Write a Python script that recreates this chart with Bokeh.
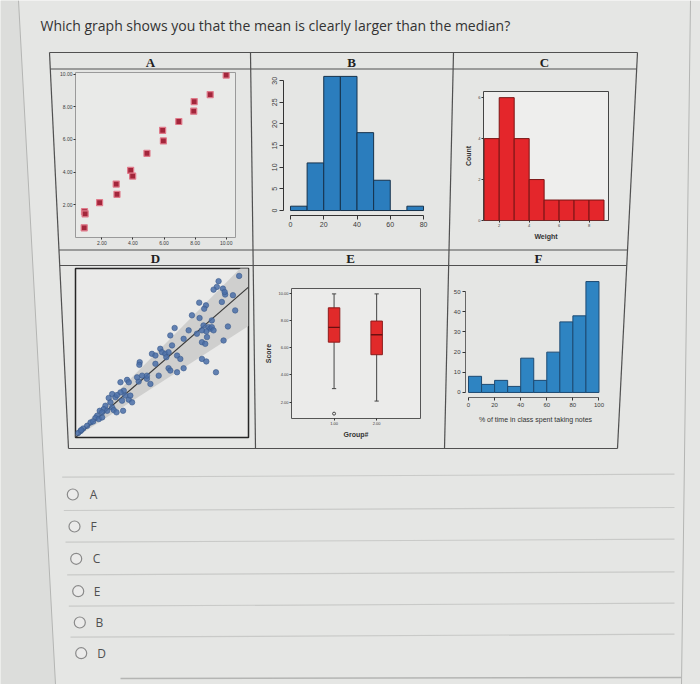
from bokeh.plotting import figure
from bokeh.models import Range1d, FixedTicker, NumeralTickFormatter
from bokeh.core.properties import value
from bokeh.embed import file_html
from bokeh.resources import INLINE

# ---- data ----
question = "Which graph shows you that the mean is clearly larger than the median?"
panel_names = ["A", "B", "C", "D", "E", "F"]
options = ["A", "F", "C", "E", "B", "D"]

# A: scatter
a_x = [0.88, 0.92, 0.86, 1.85, 2.92, 2.97, 3.85, 3.98, 4.90, 5.91, 5.96, 6.95, 7.94, 7.91, 8.97, 10.0]
a_y = [1.58, 1.45, 0.59, 2.13, 3.27, 2.64, 4.11, 3.76, 5.15, 6.56, 5.91, 7.10, 8.32, 7.73, 8.75, 9.94]
a_ticks = [2, 4, 6, 8, 10]

# B: histogram, bins of 10
b_edges = [0, 10, 20, 30, 40, 50, 60, 70, 80]
b_counts = [1, 11, 31, 31, 18, 7, 0, 1]
b_xticks = [0, 20, 40, 60, 80]
b_yticks = [0, 5, 10, 15, 20, 25, 30]

# C: histogram of Weight
c_edges = [1, 2, 3, 4, 5, 6, 7, 8, 9]
c_counts = [4, 6, 4, 2, 1, 1, 1, 1]
c_xticks = [2, 4, 6, 8]
c_yticks = [0, 2, 4, 6]

# D: scatter with fit line and band
d_x = [94.6, 82.7, 81.7, 79.8, 85.2, 86.5, 86.2, 91.0, 84.6, 92.3,
       71.5, 75.4, 74.4, 67.3, 71.7, 78.8, 74.0, 76.9, 77.9, 78.8,
       79.8, 75.6, 73.1, 88.1, 70.2, 65.4, 76.0, 73.1, 75.0, 85.6,
       57.3, 54.8, 62.5, 55.8, 49.0, 50.0, 51.9, 53.8, 44.2, 58.7,
       60.6, 46.2, 37.1, 36.9, 73.1, 75.6, 81.2, 53.8, 54.8, 58.7,
       62.5, 48.1, 38.5, 41.3, 29.8, 30.8, 36.5, 43.3, 27.9, 26.0,
       28.8, 21.2, 23.1, 24.0, 30.8, 32.7, 19.2, 20.2, 26.9, 31.7,
       17.3, 16.3, 18.3, 21.2, 22.1, 23.7, 27.5, 14.0, 12.5, 11.5,
       13.5, 15.4, 8.7, 10.2, 6.7, 4.4, 2.9, 1.5, 3.3, 15.4,
       26.0, 35.6, 41.3, 46.2, 52.5]
d_y = [95.6, 92.5, 89.1, 87.5, 88.1, 84.6, 86.1, 84.2, 80.2, 75.2,
       79.8, 78.2, 76.2, 72.3, 70.7, 69.3, 66.3, 65.3, 64.4, 65.3,
       63.4, 62.8, 63.4, 65.7, 61.4, 63.4, 59.4, 56.4, 55.4, 57.4,
       64.8, 60.4, 58.4, 54.5, 52.5, 50.5, 49.5, 50.5, 49.5, 48.5,
       46.5, 43.6, 44.6, 43.0, 46.5, 45.0, 38.6, 41.0, 39.6, 38.6,
       41.0, 36.6, 36.6, 34.7, 34.1, 32.7, 33.1, 31.7, 27.7, 26.7,
       24.8, 25.7, 23.8, 25.1, 22.4, 20.8, 23.4, 20.8, 21.8, 24.8,
       18.8, 16.8, 15.8, 17.8, 16.2, 14.9, 15.8, 15.8, 12.9, 11.5,
       10.9, 11.9, 8.9, 9.5, 6.9, 5.3, 3.8, 2.6, 4.4, 14.9,
       32.7, 35.6, 36.6, 48.5, 47.5]
fit_x = [0, 100]
fit_y = [0, 89]
band_x = [0, 100]
band_lo = [0, 66]
band_hi = [2, 105]

# E: box plots of Score by Group#
e_groups = [1, 2]
e_low = [2.99, 2.07]
e_q1 = [6.43, 5.50]
e_med = [7.52, 6.98]
e_q3 = [8.97, 7.99]
e_high = [10.0, 10.0]
e_out_x = [1]
e_out_y = [1.14]
e_xticks = [1, 2]
e_yticks = [2, 4, 6, 8, 10]

# F: histogram of % of time taking notes
f_edges = [0, 10, 20, 30, 40, 50, 60, 70, 80, 90, 100]
f_counts = [8, 4, 6, 3, 17, 6, 20, 35, 38, 55]
f_xticks = [0, 20, 40, 60, 80, 100]
f_yticks = [0, 10, 20, 30, 40, 50]

# ---- look ----
BG = "#e5e6e4"
RULE = "#505050"
W, H = 700, 684


def place(p, left, top):
    p.styles = {"position": "absolute", "left": "%dpx" % left, "top": "%dpx" % top}


def cell(left, top, w, h, xr, yr, bl, br, bt, bb, **kw):
    p = figure(width=w, height=h, x_range=xr, y_range=yr, toolbar_location=None,
               output_backend="svg", min_border_left=bl, min_border_right=br,
               min_border_top=bt, min_border_bottom=bb, **kw)
    p.border_fill_color = None
    p.background_fill_color = None
    p.outline_line_color = None
    p.xgrid.visible = False
    p.ygrid.visible = False
    place(p, left, top)
    return p


def style_axes(p, size, tick_out=2, line=None):
    for ax in p.axis:
        ax.major_label_text_font = "Liberation Sans"
        ax.major_label_text_font_size = size
        ax.major_label_text_color = "#3a3a3a"
        ax.major_label_standoff = 1
        ax.major_tick_in = 0
        ax.major_tick_out = tick_out
        ax.major_tick_line_color = "#333333"
        ax.minor_tick_line_color = None
        ax.axis_line_color = line
        ax.axis_label_text_font = "Liberation Sans"
        ax.axis_label_text_font_style = "bold"
        ax.axis_label_text_font_size = "7px"
        ax.axis_label_text_color = "#333333"
        ax.axis_label_standoff = 3


# ---- page: question, table rules, headers, answer options ----
page = figure(width=W, height=H, x_range=Range1d(0, W), y_range=Range1d(H, 0),
              toolbar_location=None, output_backend="svg", min_border=0,
              x_axis_location=None, y_axis_location=None)
page.border_fill_color = BG
page.background_fill_color = BG
page.outline_line_color = None
page.grid.visible = False
place(page, 0, 0)

# card edges (photo is slightly skewed)
page.patch([0, 18, 55, 0], [0, 0, H, H], fill_color="#dcdddb", line_color=None)
page.segment(x0=[18, 690], y0=[0, 0], x1=[55, 681], y1=[H, H], line_color="#b4b5b3", line_width=1)
page.segment(x0=[120], y0=[678], x1=[681], y1=[677], line_color="#b4b5b3", line_width=1.5)

page.text(x=[40], y=[25], text=[question], text_font=value("Open Sans"), text_font_size="14px",
          text_color="#333333", text_baseline="middle")

# table: corners of the skewed grid
tl, tr, bl_, br_ = (49, 52), (637, 52), (68, 448), (617, 448)
col_top = [49, 250, 453, 637]
col_bot = [68, 255, 444, 617]
page.segment(x0=col_top, y0=[52] * 4, x1=col_bot, y1=[448] * 4, line_color=RULE, line_width=1.2)
rule_y = [52, 68.5, 249.5, 265, 448]
lx = [tl[0] + (y - 52) * (bl_[0] - tl[0]) / 396 for y in rule_y]
rx = [tr[0] + (y - 52) * (br_[0] - tr[0]) / 396 for y in rule_y]
page.segment(x0=lx, y0=rule_y, x1=rx, y1=rule_y, line_color=RULE, line_width=1.2)
head_x = [150, 351, 544, 155, 350, 538]
head_y = [61.5, 61.5, 62, 258, 258, 257.5]
page.text(x=head_x, y=head_y, text=panel_names, text_font=value("Liberation Serif"),
          text_font_size="13px", text_font_style="bold", text_color="#1e1e1e",
          text_align="center", text_baseline="middle")

# answer options
opt_y = [494, 526, 558.3, 590.7, 622, 652.7]
opt_cx = [72.3, 74, 75.7, 77.7, 79.3, 80.7]
opt_tx = [89.3, 90, 92.3, 93.3, 95, 96.7]
sep_y = [476.7, 510, 541.7, 574.3, 605.7, 636.7]
sep_x0 = [61.7, 63.3, 65, 66.7, 68.3, 70]
page.segment(x0=sep_x0, y0=sep_y, x1=[674] * 6, y1=[y - 3 for y in sep_y],
             line_color="#c9cac8", line_width=1.2)
page.scatter(x=opt_cx, y=opt_y, marker="circle", size=11, fill_color="#ebebea",
             line_color="#8a8a8a", line_width=1.2)
page.text(x=opt_tx, y=opt_y, text=options, text_font=value("Open Sans"), text_font_size="12px",
          text_color="#505050", text_baseline="middle")

# ---- A ----
pa = cell(45, 70, 200, 180, Range1d(0.3, 10.6), Range1d(0.0, 10.1), 30, 10, 2, 13)
pa.background_fill_color = "#e9eae8"
pa.outline_line_color = "#9a9a9a"
pa.scatter(a_x, a_y, marker="square", size=6, fill_color="#a3263b", line_color="#e07a8a", line_width=1.2)
style_axes(pa, "5px")
pa.xaxis.ticker = FixedTicker(ticks=a_ticks)
pa.yaxis.ticker = FixedTicker(ticks=a_ticks)
pa.xaxis.formatter = NumeralTickFormatter(format="0.00")
pa.yaxis.formatter = NumeralTickFormatter(format="0.00")

# ---- B ----
pb = cell(250, 70, 195, 175, Range1d(-4.2, 85.4), Range1d(-1.15, 31.9), 33, 13, 2, 30)
pb.quad(left=b_edges[:-1], right=b_edges[1:], bottom=0, top=b_counts,
        fill_color="#2b7dbd", line_color="#16324c", line_width=1)
style_axes(pb, "7px", tick_out=4, line="#333333")
pb.xaxis.ticker = FixedTicker(ticks=b_xticks)
pb.yaxis.ticker = FixedTicker(ticks=b_yticks)
pb.xaxis.bounds = (0, 80)
pb.yaxis.bounds = (0, 30)
pb.yaxis.major_label_orientation = "vertical"
pb.axis.major_label_standoff = 2

# ---- C ----
pc = cell(452, 70, 180, 178, Range1d(0.95, 9.3), Range1d(0, 6.3), 31, 24, 21, 28)
pc.background_fill_color = "#eeeeed"
pc.outline_line_color = "#444444"
pc.quad(left=c_edges[:-1], right=c_edges[1:], bottom=0, top=c_counts,
        fill_color="#e4262b", line_color="#7a1515", line_width=1)
style_axes(pc, "4px")
pc.xaxis.ticker = FixedTicker(ticks=c_xticks)
pc.yaxis.ticker = FixedTicker(ticks=c_yticks)
pc.xaxis.axis_label = "Weight"
pc.yaxis.axis_label = "Count"

# ---- D ----
pd_ = cell(60, 266, 195, 178, Range1d(0, 100), Range1d(0, 100), 15, 7, 2, 7,
           x_axis_location=None, y_axis_location=None)
pd_.background_fill_color = "#eaeae9"
pd_.outline_line_color = "#262626"
pd_.outline_line_width = 1.5
pd_.varea(x=band_x, y1=band_lo, y2=band_hi, fill_color="#cfcfce", fill_alpha=1)
pd_.line(fit_x, fit_y, line_color="#3a3a3a", line_width=1.2)
pd_.scatter(d_x, d_y, marker="circle", size=5.5, fill_color="#4a6ea8", fill_alpha=0.85,
            line_color="#3a5a8c", line_width=0.6)

# ---- E ----
pe = cell(255, 266, 190, 180, Range1d(0, 3.03), Range1d(0.78, 10.4), 36, 25, 22, 28)
pe.background_fill_color = "#ebebea"
pe.outline_line_color = "#555555"
cap_l = [g - 0.05 for g in e_groups]
cap_r = [g + 0.05 for g in e_groups]
pe.segment(x0=e_groups, x1=e_groups, y0=e_low, y1=e_high, line_color="#444444", line_width=1)
pe.segment(x0=cap_l, x1=cap_r, y0=e_high, y1=e_high, line_color="#444444")
pe.segment(x0=cap_l, x1=cap_r, y0=e_low, y1=e_low, line_color="#444444")
pe.vbar(x=e_groups, width=0.27, bottom=e_q1, top=e_q3, fill_color="#e12a2a",
        line_color="#8c1c1c", line_width=1)
pe.segment(x0=[g - 0.135 for g in e_groups], x1=[g + 0.135 for g in e_groups],
           y0=e_med, y1=e_med, line_color="#6a1010", line_width=1.4)
pe.scatter(e_out_x, e_out_y, marker="circle", size=3, fill_color=None, line_color="#444444")
style_axes(pe, "4px")
pe.xaxis.ticker = FixedTicker(ticks=e_xticks)
pe.yaxis.ticker = FixedTicker(ticks=e_yticks)
pe.xaxis.formatter = NumeralTickFormatter(format="0.00")
pe.yaxis.formatter = NumeralTickFormatter(format="0.00")
pe.xaxis.axis_label = "Group#"
pe.yaxis.axis_label = "Score"

# ---- F ----
pf = cell(450, 266, 175, 178, Range1d(-2.3, 105), Range1d(-2.5, 58), 13, 20, 9, 47)
pf.quad(left=f_edges[:-1], right=f_edges[1:], bottom=0, top=f_counts,
        fill_color="#2e84c2", line_color="#1d4a72", line_width=1)
style_axes(pf, "6px", tick_out=3, line="#666666")
pf.xaxis.ticker = FixedTicker(ticks=f_xticks)
pf.yaxis.ticker = FixedTicker(ticks=f_yticks)
pf.xaxis.bounds = (0, 100)
pf.yaxis.bounds = (0, 50)
pf.axis.major_label_standoff = 2
pf.xaxis.axis_label = "% of time in class spent taking notes"
pf.xaxis.axis_label_text_font_style = "normal"
pf.xaxis.axis_label_text_font_size = "7px"
pf.xaxis.axis_label_standoff = 6

roots = [page, pa, pb, pc, pd_, pe, pf]
open("out.html", "w").write(file_html(roots, INLINE))
